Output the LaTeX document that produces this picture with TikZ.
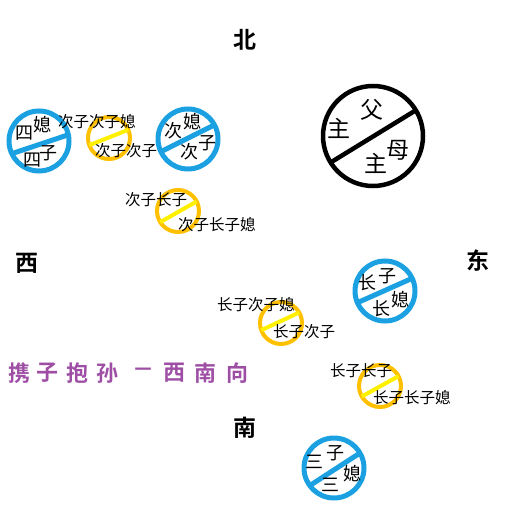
\documentclass[tikz,border=0pt]{standalone}
\usepackage{fontspec}
\newfontfamily\cjk{Noto Sans CJK SC}
\newfontfamily\cjkb{Noto Sans CJK SC Bold}
\definecolor{ringblue}{RGB}{27,161,226}
\definecolor{ringgold}{RGB}{255,192,0}
\definecolor{baryellow}{RGB}{255,240,0}
\definecolor{tagpurple}{RGB}{158,79,165}
\tikzset{
  bluering/.style={circle,draw=ringblue,line width=5pt,minimum size=60pt,inner sep=0,outer sep=0},
  bigring/.style={circle,draw=black,line width=4.5pt,minimum size=100pt,inner sep=0,outer sep=0},
  goldring/.style={circle,draw=ringgold,line width=4pt,minimum size=42pt,inner sep=0,outer sep=0},
  bluebar/.style={draw=ringblue,line width=5pt},
  blackbar/.style={draw=black,line width=4.5pt},
  yellowbar/.style={draw=baryellow,line width=4pt},
  bigch/.style={inner sep=0,font=\cjk\fontsize{23}{23}\selectfont},
  midch/.style={inner sep=0,font=\cjk\fontsize{18}{18}\selectfont},
  smalltxt/.style={inner sep=0,anchor=west,font=\cjk\fontsize{15.5}{15.5}\selectfont},
  dirtxt/.style={inner sep=0,font=\cjkb\fontsize{23}{23}\selectfont},
  tagch/.style={inner sep=0,text=tagpurple,font=\cjkb\fontsize{22}{22}\selectfont}
}
\begin{document}
\begin{tikzpicture}[x=1pt,y=-1pt]
\useasboundingbox (0,0) rectangle (523,526);
% directions
\node[dirtxt] (n) at (245,40) {北};
\node[dirtxt] (w) at (27,263) {西};
\node[dirtxt] (e) at (478,261) {东};
\node[dirtxt] (s) at (245,428) {南};
% big black circle
\node[bigring] (main) at (373,136) {};
\draw[blackbar] (main.212) -- (main.31);
\node[bigch] (fu) at (372,110) {父};
\node[bigch] (zhu1) at (339,128) {主};
\node[bigch] (mu) at (398,150) {母};
\node[bigch] (zhu2) at (376,163) {主};
% blue circle 1
\node[bluering] (c1) at (39,141) {};
\draw[bluebar] (c1.205) -- (c1.12);
\node[midch] (c1a) at (25,133) {四};
\node[midch] (c1b) at (42,125) {媳};
\node[midch] (c1c) at (32,160) {四};
\node[midch] (c1d) at (48,153) {子};
% blue circle 2
\node[bluering] (c2) at (188,139) {};
\draw[bluebar] (c2.205) -- (c2.28);
\node[midch] (c2a) at (173,131) {次};
\node[midch] (c2b) at (192,122) {媳};
\node[midch] (c2c) at (189,152) {次};
\node[midch] (c2d) at (207,143) {子};
% blue circle 3
\node[bluering] (c3) at (385,291) {};
\draw[bluebar] (c3.203) -- (c3.25);
\node[midch] (c3a) at (367,283) {长};
\node[midch] (c3b) at (387,276) {子};
\node[midch] (c3c) at (381,309) {长};
\node[midch] (c3d) at (400,300) {媳};
% blue circle 4
\node[bluering] (c4) at (334,468) {};
\draw[bluebar] (c4.216) -- (c4.30);
\node[midch] (c4a) at (314,462) {三};
\node[midch] (c4b) at (335,453) {子};
\node[midch] (c4c) at (352,474) {媳};
\node[midch] (c4d) at (330,485) {三};
% gold circles
\node[goldring] (y1) at (109,138) {};
\draw[yellowbar] (y1.200) -- (y1.23);
\node[goldring] (y2) at (178,211) {};
\draw[yellowbar] (y2.212) -- (y2.27);
\node[goldring] (y3) at (281,323) {};
\draw[yellowbar] (y3.200) -- (y3.30);
\node[goldring] (y4) at (380,386) {};
\draw[yellowbar] (y4.210) -- (y4.28);
% small labels
\node[smalltxt] (t1) at (58,122) {次子次子媳};
\node[smalltxt] (t2) at (95,151) {次子次子};
\node[smalltxt] (t3) at (125,200) {次子长子};
\node[smalltxt] (t4) at (178,225) {次子长子媳};
\node[smalltxt] (t5) at (217,305) {长子次子媳};
\node[smalltxt] (t6) at (273,332) {长子次子};
\node[smalltxt] (t7) at (330,371) {长子长子};
\node[smalltxt] (t8) at (373,398) {长子长子媳};
% purple tag
\node[tagch] (g1) at (20,373) {携};
\node[tagch] (g2) at (47,373) {子};
\node[tagch] (g3) at (77,373) {抱};
\node[tagch] (g4) at (107,373) {孙};
\node[tagch] (g5) at (143,373) {－};
\node[tagch] (g6) at (174,373) {西};
\node[tagch] (g7) at (205,373) {南};
\node[tagch] (g8) at (237,373) {向};
\end{tikzpicture}
\end{document}
